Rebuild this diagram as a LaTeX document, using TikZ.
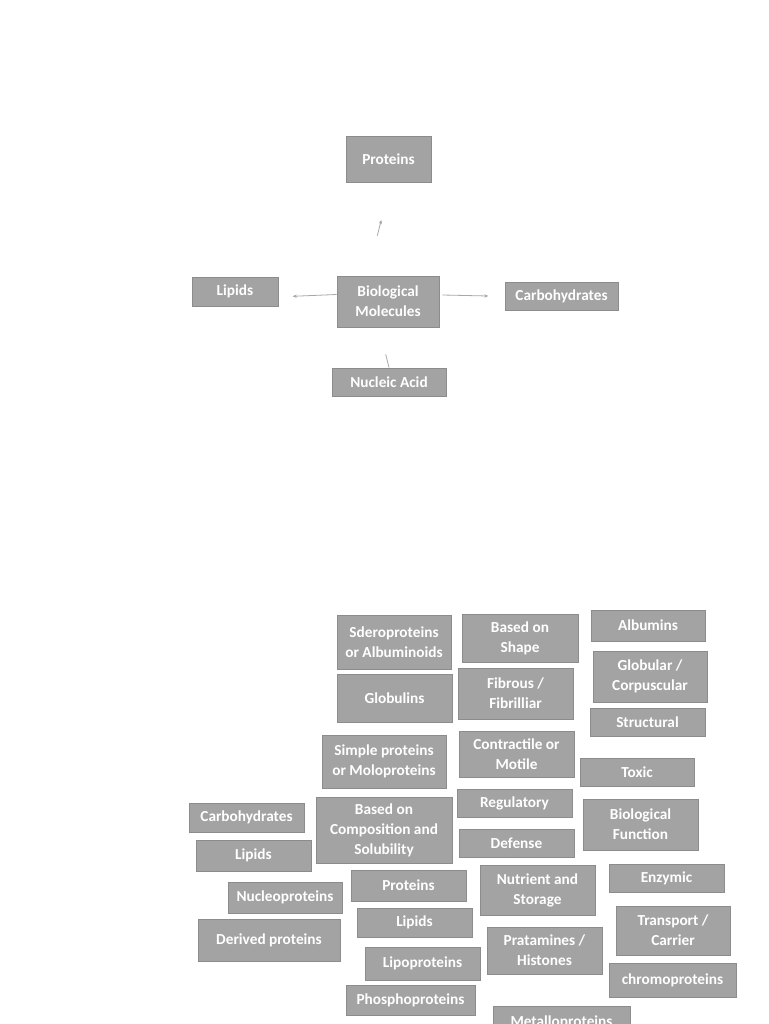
\documentclass[tikz,border=0pt]{standalone}
\usepackage{fontspec}
\setmainfont{Carlito}
\usetikzlibrary{arrows.meta}
\definecolor{boxfill}{HTML}{A3A3A3}
\definecolor{boxedge}{HTML}{8C8C8C}
\definecolor{arrowgray}{HTML}{A8A8A8}
\begin{document}
\begin{tikzpicture}[x=1pt,y=-1pt,
  box/.style={draw=boxedge, fill=boxfill, text=white, line width=0.9pt,
    font=\bfseries\fontsize{15.3}{20}\selectfont, align=center, inner sep=0pt},
  conn/.style={draw=arrowgray, line width=0.8pt},
  arr/.style={conn, -{Stealth[length=4pt,width=3.5pt]}}]
\useasboundingbox (0,0) rectangle (768,1024);
\clip (0,0) rectangle (768,1024);
\fill[white] (0,0) rectangle (768,1024);
% top diagram
\node[box, minimum width=85pt, minimum height=46pt] (prot) at (388.5,159) {Proteins};
\node[box, minimum width=86pt, minimum height=29pt] (lip) at (235,291.5) {Lipids};
\node[box, minimum width=102pt, minimum height=51pt] (bio) at (388,301.5) {Biological\\Molecules};
\node[box, minimum width=113pt, minimum height=28pt] (carb) at (561.5,296) {Carbohydrates};
\node[box, minimum width=114pt, minimum height=28pt] (nuc) at (389,382) {Nucleic Acid};
\coordinate (upa) at (377.3,235.7);
\coordinate (upb) at (381.3,220);
\coordinate (lend) at (292.7,296.3);
\coordinate (rend) at (488.3,296);
\coordinate (dstart) at (385.7,354.3);
\draw[arr] (upa) -- (upb);
\draw[arr] ([yshift=7pt]bio.west) -- (lend);
\draw[arr] ([xshift=3pt,yshift=6.5pt]bio.east) -- (rend);
\draw[conn] (dstart) -- (nuc.north);
% bottom cluster
\node[box, minimum width=114pt, minimum height=54pt] (sdero) at (394,642) {Sderoproteins\\or Albuminoids};
\node[box, minimum width=115pt, minimum height=48pt] (glob) at (394.5,698) {Globulins};
\node[box, minimum width=124pt, minimum height=53pt] (simple) at (384,761.5) {Simple proteins\\or Moloproteins};
\node[box, minimum width=115pt, minimum height=29pt] (carb2) at (246.5,817.5) {Carbohydrates};
\node[box, minimum width=136pt, minimum height=66pt] (comp) at (384,830) {Based on\\Composition and\\Solubility};
\node[box, minimum width=115pt, minimum height=31pt] (lip2) at (253.5,855.5) {Lipids};
\node[box, minimum width=114pt, minimum height=31pt] (nucleo) at (285,897.5) {Nucleoproteins};
\node[box, minimum width=115pt, minimum height=31pt] (prot2) at (408.5,885.5) {Proteins};
\node[box, minimum width=142pt, minimum height=42pt] (derived) at (269,940) {Derived proteins};
\node[box, minimum width=115pt, minimum height=29pt] (lip3) at (414.5,922.5) {Lipids};
\node[box, minimum width=115pt, minimum height=33pt] (lipo) at (422.5,963.5) {Lipoproteins};
\node[box, minimum width=129pt, minimum height=30pt] (phospho) at (410.5,1000) {Phosphoproteins};
\node[box, minimum width=116pt, minimum height=48pt] (shape) at (520,638) {Based on\\Shape};
\node[box, minimum width=114pt, minimum height=31pt] (album) at (648,625.5) {Albumins};
\node[box, minimum width=114pt, minimum height=51pt] (globular) at (650,676.5) {Globular /\\Corpuscular};
\node[box, minimum width=115pt, minimum height=51pt] (fibrous) at (515.5,693.5) {Fibrous /\\Fibrilliar};
\node[box, minimum width=115pt, minimum height=28pt] (struct) at (647.5,722) {Structural};
\node[box, minimum width=115pt, minimum height=46pt] (contr) at (516.5,754) {Contractile or\\Motile};
\node[box, minimum width=114pt, minimum height=28pt] (toxic) at (637,772) {Toxic};
\node[box, minimum width=115pt, minimum height=28pt] (regul) at (514.5,803) {Regulatory};
\node[box, minimum width=115pt, minimum height=51pt] (biofunc) at (640.5,824.5) {Biological\\Function};
\node[box, minimum width=115pt, minimum height=28pt] (defense) at (516.5,843) {Defense};
\node[box, minimum width=115pt, minimum height=50pt] (nutr) at (537.5,890) {Nutrient and\\Storage};
\node[box, minimum width=115pt, minimum height=28pt] (enzym) at (666.5,878) {Enzymic};
\node[box, minimum width=114pt, minimum height=49pt] (transp) at (673,930.5) {Transport /\\Carrier};
\node[box, minimum width=115pt, minimum height=47pt] (prata) at (544.5,950.5) {Pratamines /\\Histones};
\node[box, minimum width=127pt, minimum height=34pt] (chromo) at (672.5,980) {chromoproteins};
\node[box, minimum width=137pt, minimum height=32pt] (metallo) at (561.5,1022) {Metalloproteins};
\end{tikzpicture}
\end{document}
